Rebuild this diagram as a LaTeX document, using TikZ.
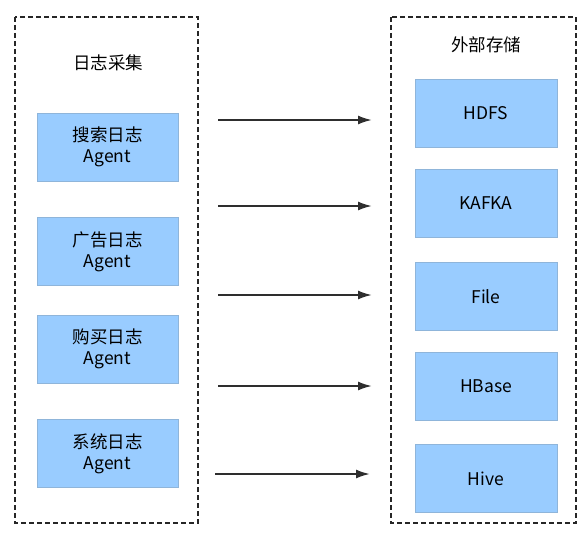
\documentclass[tikz,border=0pt]{standalone}
\usepackage{fontspec}
\newfontfamily\cjk{Noto Sans CJK SC}
\usepackage{xcolor}
\usepackage{tikz}
\usetikzlibrary{arrows.meta, positioning}
\definecolor{boxblue}{HTML}{99CCFF}
\definecolor{boxedge}{HTML}{8FB5DA}
\definecolor{flowgray}{HTML}{2E2E2E}

\begin{document}
\begin{tikzpicture}[x=1pt, y=-1pt, font=\cjk\fontsize{17.5}{21}\selectfont,
    groupbox/.style={draw=black!85, dash pattern=on 5pt off 3pt, line width=1.1pt},
    agentbox/.style={draw=boxedge, fill=boxblue, minimum width=141pt, minimum height=68pt, align=center, inner sep=0pt},
    storebox/.style={draw=boxedge, fill=boxblue, minimum width=142pt, minimum height=68pt, align=center, inner sep=0pt},
    flow/.style={draw=flowgray, line width=2pt, -{Latex[length=14pt, width=9pt]}}]
    \useasboundingbox (0,0) rectangle (586,535);
    % two dashed groups
    \draw[groupbox] (15,17) rectangle (198,523);
    \draw[groupbox] (391,17) rectangle (576,523);
    \node (collect) at (108,63) {日志采集};
    \node (storage) at (486,45) {外部存储};
    % agents
    \node[agentbox] (search) at (107.5,147) {搜索日志\\Agent};
    \node[agentbox] (ads) at (107.5,251.5) {广告日志\\Agent};
    \node[agentbox] (buy) at (107.5,349) {购买日志\\Agent};
    \node[agentbox] (system) at (107.5,453.5) {系统日志\\Agent};
    % storages
    \node[storebox] (hdfs) at (486,113.5) {HDFS};
    \node[storebox] (kafka) at (486,203) {KAFKA};
    \node[storebox] (file) at (486,296.5) {File};
    \node[storebox] (hbase) at (486,386) {HBase};
    \node[storebox] (hive) at (486,478.5) {Hive};
    % arrows in between
    \coordinate (from1) at (218,120); \coordinate (to1) at (372,120);
    \coordinate (from2) at (218,206); \coordinate (to2) at (372,206);
    \coordinate (from3) at (218,295); \coordinate (to3) at (372,295);
    \coordinate (from4) at (218,386); \coordinate (to4) at (372,386);
    \coordinate (from5) at (215,474); \coordinate (to5) at (370,474);
    \draw[flow] (from1) -- (to1);
    \draw[flow] (from2) -- (to2);
    \draw[flow] (from3) -- (to3);
    \draw[flow] (from4) -- (to4);
    \draw[flow] (from5) -- (to5);
\end{tikzpicture}
\end{document}
